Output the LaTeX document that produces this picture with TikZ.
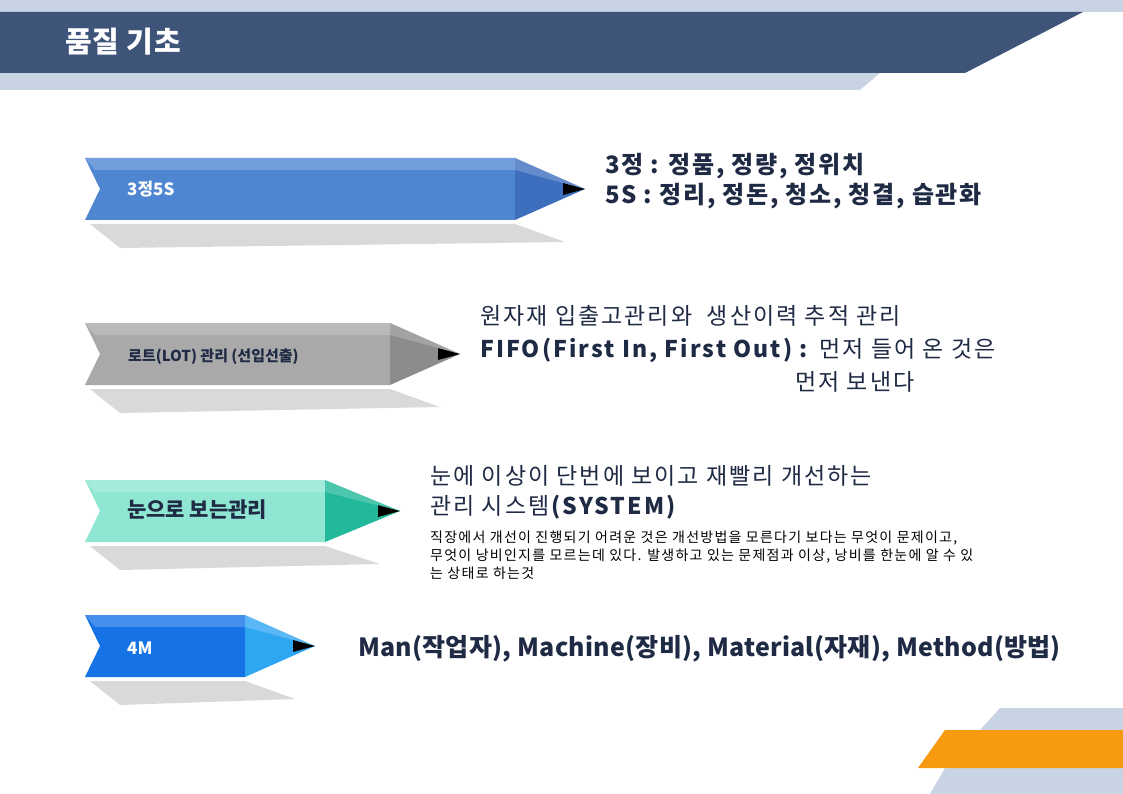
\documentclass[tikz,border=0pt]{standalone}
\usepackage{fontspec}
\setmainfont{Noto Sans CJK KR}
\definecolor{navy}{HTML}{3F5479}
\definecolor{lightband}{HTML}{C8D3E4}
\definecolor{orng}{HTML}{F79A10}
\definecolor{txt}{HTML}{1F2A44}
\definecolor{b1}{HTML}{4F86D2}
\definecolor{b1t}{HTML}{3E6FBF}
\definecolor{g2}{HTML}{A9A9A9}
\definecolor{g2t}{HTML}{8C8C8C}
\definecolor{m3}{HTML}{8FE6D2}
\definecolor{m3t}{HTML}{22B89A}
\definecolor{c4}{HTML}{1673E6}
\definecolor{c4t}{HTML}{2FA6F2}
\begin{document}
\begin{tikzpicture}[x=1pt,y=-1pt,
  lbl/.style={text=txt, anchor=west, inner sep=0pt},
  plbl/.style={anchor=west, inner sep=0pt}]
\useasboundingbox (0,0) rectangle (1123,794);
\fill[white] (0,0) rectangle (1123,794);
% header
\fill[lightband] (0,0) rectangle (1123,12);
\fill[lightband] (0,73) -- (880,73) -- (860,90) -- (0,90) -- cycle;
\fill[navy] (0,12) -- (1083,12) -- (965,73) -- (0,73) -- cycle;
\node[font=\bfseries\fontsize{29}{32}\selectfont\addfontfeature{LetterSpace=3}, text=white, anchor=west, inner sep=0pt] (title) at (65,42) {품질 기초};
% bottom right decoration
\fill[lightband] (1000,708) -- (1123,708) -- (1123,730) -- (980,730) -- cycle;
\fill[lightband] (945,768) -- (1123,768) -- (1123,794) -- (930,794) -- cycle;
\fill[orng] (945,730) -- (1123,730) -- (1123,768) -- (918,768) -- cycle;
\newcommand{\pencil}[6]{% x1, ytop, ybot, xtip, bodycolor, tipcolor
  \fill[black!15] (90,#3+4) -- (#1,#3+4) -- (#4-20,#3+22) -- (120,#3+28) -- cycle;
  \fill[#5] (85,#2) -- (#1,#2) -- (#1,#3) -- (85,#3) -- (100,{(#2+#3)/2}) -- cycle;
  \fill[#6] (#1,#2) -- (#4,{(#2+#3)/2}) -- (#1,#3) -- cycle;
  \fill[black] (#4-22,{(#2+#3)/2-6}) -- (#4,{(#2+#3)/2}) -- (#4-22,{(#2+#3)/2+6}) -- cycle;
  \fill[white,opacity=0.2] (85,#2) -- (#1,#2) -- (#4,{(#2+#3)/2}) -- (#1,{#2+12}) -- (95,{#2+12}) -- cycle;
}
\pencil{515}{158}{220}{585}{b1}{b1t}
\node[plbl, text=white, font=\bfseries\fontsize{17}{20}\selectfont] (l1) at (127,189) {3정5S};
\pencil{390}{323}{385}{460}{g2}{g2t}
\node[plbl, text=txt, font=\bfseries\fontsize{15}{18}\selectfont] (l2) at (128,357) {로트(LOT) 관리 (선입선출)};
\pencil{325}{480}{542}{400}{m3}{m3t}
\node[plbl, text=txt, font=\bfseries\fontsize{21}{24}\selectfont] (l3) at (127,510) {눈으로 보는관리};
\pencil{245}{615}{677}{315}{c4}{c4t}
\node[plbl, text=white, font=\bfseries\fontsize{17}{20}\selectfont] (l4) at (127,648) {4M};
% texts
\node[lbl, font=\bfseries\fontsize{24}{30}\selectfont\addfontfeature{LetterSpace=7}, align=left, anchor=north west] (t1) at (605,153) {3정 : 정품, 정량, 정위치\\5S : 정리, 정돈, 청소, 청결, 습관화};
\node[lbl, font=\fontsize{23}{33}\selectfont\addfontfeature{LetterSpace=9}, align=left, anchor=north west] (t2) at (480,305) {원자재 입출고관리와 \ 생산이력 추적 관리\\\textbf{FIFO(First In, First Out) :} 먼저 들어 온 것은\\\hspace*{315pt}먼저 보낸다};
\node[lbl, font=\fontsize{23}{30}\selectfont\addfontfeature{LetterSpace=9}, align=left, anchor=north west] (t3) at (430,465) {눈에 이상이 단번에 보이고 재빨리 개선하는\\관리 시스템\textbf{(SYSTEM)}};
\node[lbl, font=\fontsize{14}{18}\selectfont\addfontfeature{LetterSpace=9}, align=left, anchor=north west, text=black] (t3b) at (430,531) {직장에서 개선이 진행되기 어려운 것은 개선방법을 모른다기 보다는 무엇이 문제이고,\\무엇이 낭비인지를 모르는데 있다. 발생하고 있는 문제점과 이상, 낭비를 한눈에 알 수 있\\는 상태로 하는것};
\node[lbl, font=\bfseries\fontsize{25}{30}\selectfont\addfontfeature{LetterSpace=1}] (t4) at (358,649) {Man(작업자), Machine(장비), Material(자재), Method(방법)};
\end{tikzpicture}
\end{document}
